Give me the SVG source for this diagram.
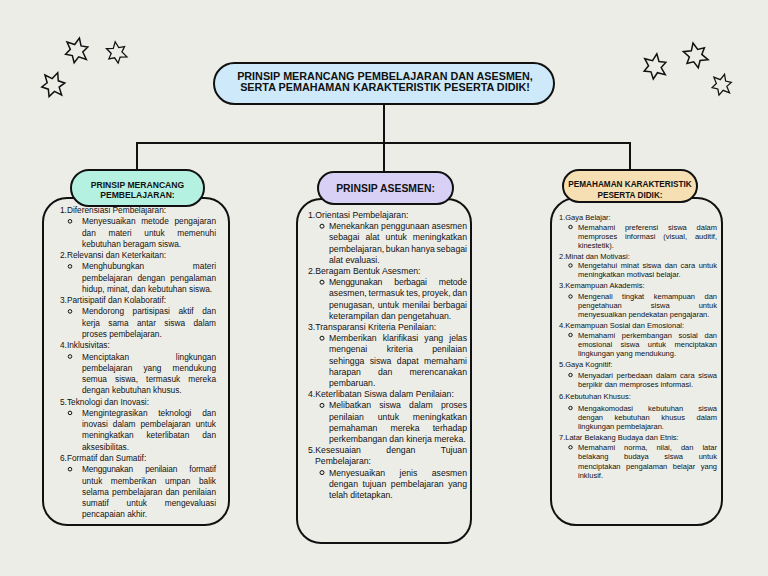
<svg xmlns="http://www.w3.org/2000/svg" xmlns:xlink="http://www.w3.org/1999/xlink" width="768" height="576" viewBox="0 0 768 576">
<style>
.box{stroke:#111;stroke-width:2}
.t{fill:#111;font-family:"Liberation Sans",Arial,sans-serif}
.hd{font-weight:bold;text-anchor:middle}
.l{font-size:8.3px}
.m{font-size:8.7px}
.r{font-size:7.5px}
.b{fill:none;stroke:#111;stroke-width:1}
.star{fill:none;stroke:#111;stroke-width:1.5;stroke-linejoin:miter}
.con{fill:none;stroke:#111;stroke-width:2}
</style>
<defs>
<path id="star" d="M0,-13 L3.25,-5.63 L10.13,-5.85 L6.24,0 L11.26,6.5 L3.25,5.63 L0,12.35 L-3.25,5.63 L-10.13,5.85 L-6.5,0 L-11.26,-6.5 L-3.25,-5.63 Z"/>
</defs>
<rect width="768" height="576" fill="#EDEDE8"/>
<g id="stars">
<use xlink:href="#star" class="star" transform="translate(76.7,50.7) rotate(12)"/>
<use xlink:href="#star" class="star" transform="translate(116.7,52.7) rotate(-8) scale(0.85)"/>
<use xlink:href="#star" class="star" transform="translate(53.3,85) rotate(20)"/>
<use xlink:href="#star" class="star" transform="translate(655,66.7) rotate(8)"/>
<use xlink:href="#star" class="star" transform="translate(695.7,55.7) rotate(-12)"/>
<use xlink:href="#star" class="star" transform="translate(721.7,85) rotate(15) scale(0.85)"/>
</g>
<g id="connectors">
<path class="con" d="M384,104 V173"/>
<path class="con" d="M137,171 V143 H630 V171"/>
</g>
<g id="title">
<rect class="box" x="214" y="63" width="340" height="41" rx="20.5" fill="#CDE9FA"/>
<text class="t hd" font-size="10.8" x="385" y="79.6">PRINSIP MERANCANG PEMBELAJARAN DAN ASESMEN,</text>
<text class="t hd" font-size="10.8" x="385" y="90.6">SERTA PEMAHAMAN KARAKTERISTIK PESERTA DIDIK!</text>
</g>
<g id="left-box">
<rect class="box" x="43" y="198" width="186" height="327" rx="24" fill="none"/>
<g class="t l">
<text x="60" y="213">1.Diferensiasi Pembelajaran:</text>
<text x="82" y="224.3" word-spacing="3.34" textLength="134" lengthAdjust="spacing">Menyesuaikan metode pengajaran</text>
<text x="82" y="235.5" word-spacing="10.38" textLength="134" lengthAdjust="spacing">dan materi untuk memenuhi</text>
<text x="82" y="246.8">kebutuhan beragam siswa.</text>
<text x="60" y="258.1">2.Relevansi dan Keterkaitan:</text>
<text x="82" y="269.4" word-spacing="46.34" textLength="134" lengthAdjust="spacing">Menghubungkan materi</text>
<text x="82" y="280.6" word-spacing="2.87" textLength="134" lengthAdjust="spacing">pembelajaran dengan pengalaman</text>
<text x="82" y="291.9">hidup, minat, dan kebutuhan siswa.</text>
<text x="60" y="303.2">3.Partisipatif dan Kolaboratif:</text>
<text x="82" y="314.4" word-spacing="6.22" textLength="134" lengthAdjust="spacing">Mendorong partisipasi aktif dan</text>
<text x="82" y="325.7" word-spacing="6.06" textLength="134" lengthAdjust="spacing">kerja sama antar siswa dalam</text>
<text x="82" y="337">proses pembelajaran.</text>
<text x="60" y="348.2">4.Inklusivitas:</text>
<text x="82" y="359.5" word-spacing="44.5" textLength="134" lengthAdjust="spacing">Menciptakan lingkungan</text>
<text x="82" y="370.8" word-spacing="8.87" textLength="134" lengthAdjust="spacing">pembelajaran yang mendukung</text>
<text x="82" y="382.1" word-spacing="5.77" textLength="134" lengthAdjust="spacing">semua siswa, termasuk mereka</text>
<text x="82" y="393.3">dengan kebutuhan khusus.</text>
<text x="60" y="404.6">5.Teknologi dan Inovasi:</text>
<text x="82" y="415.9" word-spacing="8.4" textLength="134" lengthAdjust="spacing">Mengintegrasikan teknologi dan</text>
<text x="82" y="427.1" word-spacing="2.69" textLength="134" lengthAdjust="spacing">inovasi dalam pembelajaran untuk</text>
<text x="82" y="438.4" word-spacing="10.49" textLength="134" lengthAdjust="spacing">meningkatkan keterlibatan dan</text>
<text x="82" y="449.7">aksesibilitas.</text>
<text x="60" y="460.9">6.Formatif dan Sumatif:</text>
<text x="82" y="472.2" word-spacing="10.02" textLength="134" lengthAdjust="spacing">Menggunakan penilaian formatif</text>
<text x="82" y="483.5" word-spacing="6.23" textLength="134" lengthAdjust="spacing">untuk memberikan umpan balik</text>
<text x="82" y="494.8" word-spacing="0.99" textLength="134" lengthAdjust="spacing">selama pembelajaran dan penilaian</text>
<text x="82" y="506" word-spacing="15.57" textLength="134" lengthAdjust="spacing">sumatif untuk mengevaluasi</text>
<text x="82" y="517.3">pencapaian akhir.</text>
</g>
<g>
<circle class="b" cx="70" cy="221.3" r="1.8"/>
<circle class="b" cx="70" cy="266.4" r="1.8"/>
<circle class="b" cx="70" cy="311.4" r="1.8"/>
<circle class="b" cx="70" cy="356.5" r="1.8"/>
<circle class="b" cx="70" cy="412.9" r="1.8"/>
<circle class="b" cx="70" cy="469.2" r="1.8"/>
</g>
</g>
<g id="left-header">
<rect class="box" x="71" y="170" width="133" height="36" rx="18" fill="#B5F1E1"/>
<text class="t hd" font-size="8.6" x="137.5" y="188.1">PRINSIP MERANCANG</text>
<text class="t hd" font-size="8.6" x="137.5" y="198.1">PEMBELAJARAN:</text>
</g>
<g id="middle-box">
<rect class="box" x="297" y="199" width="174" height="344" rx="24" fill="none"/>
<g class="t m">
<text x="308" y="218">1.Orientasi Pembelajaran:</text>
<text x="329" y="229.2" textLength="138" lengthAdjust="spacing">Menekankan penggunaan asesmen</text>
<text x="329" y="240.4" word-spacing="3.6" textLength="138" lengthAdjust="spacing">sebagai alat untuk meningkatkan</text>
<text x="329" y="251.6" word-spacing="-0.75" textLength="138" lengthAdjust="spacing">pembelajaran, bukan hanya sebagai</text>
<text x="329" y="262.8">alat evaluasi.</text>
<text x="308" y="274">2.Beragam Bentuk Asesmen:</text>
<text x="329" y="285.2" word-spacing="9.76" textLength="138" lengthAdjust="spacing">Menggunakan berbagai metode</text>
<text x="329" y="296.4" word-spacing="-0.56" textLength="138" lengthAdjust="spacing">asesmen, termasuk tes, proyek, dan</text>
<text x="329" y="307.6" word-spacing="0.86" textLength="138" lengthAdjust="spacing">penugasan, untuk menilai berbagai</text>
<text x="329" y="318.8">keterampilan dan pengetahuan.</text>
<text x="308" y="330">3.Transparansi Kriteria Penilaian:</text>
<text x="329" y="341.2" word-spacing="3.75" textLength="138" lengthAdjust="spacing">Memberikan klarifikasi yang jelas</text>
<text x="329" y="352.4" word-spacing="17.02" textLength="138" lengthAdjust="spacing">mengenai kriteria penilaian</text>
<text x="329" y="363.6" word-spacing="2.97" textLength="138" lengthAdjust="spacing">sehingga siswa dapat memahami</text>
<text x="329" y="374.8" word-spacing="14.6" textLength="138" lengthAdjust="spacing">harapan dan merencanakan</text>
<text x="329" y="386">pembaruan.</text>
<text x="308" y="397.2">4.Keterlibatan Siswa dalam Penilaian:</text>
<text x="329" y="408.4" word-spacing="5.71" textLength="138" lengthAdjust="spacing">Melibatkan siswa dalam proses</text>
<text x="329" y="419.6" word-spacing="11.45" textLength="138" lengthAdjust="spacing">penilaian untuk meningkatkan</text>
<text x="329" y="430.8" word-spacing="10.73" textLength="138" lengthAdjust="spacing">pemahaman mereka terhadap</text>
<text x="329" y="442">perkembangan dan kinerja mereka.</text>
<text x="308" y="453.2" word-spacing="22.9" textLength="159" lengthAdjust="spacing">5.Kesesuaian dengan Tujuan</text>
<text x="315" y="464.4">Pembelajaran:</text>
<text x="329" y="475.6" word-spacing="11.95" textLength="138" lengthAdjust="spacing">Menyesuaikan jenis asesmen</text>
<text x="329" y="486.8" word-spacing="2.15" textLength="138" lengthAdjust="spacing">dengan tujuan pembelajaran yang</text>
<text x="329" y="498">telah ditetapkan.</text>
</g>
<g>
<circle class="b" cx="322" cy="226.2" r="2"/>
<circle class="b" cx="322" cy="282.2" r="2"/>
<circle class="b" cx="322" cy="338.2" r="2"/>
<circle class="b" cx="322" cy="405.4" r="2"/>
<circle class="b" cx="322" cy="472.6" r="2"/>
</g>
</g>
<g id="middle-header">
<rect class="box" x="318" y="172" width="135" height="32" rx="16" fill="#D9D0F5"/>
<text class="t hd" font-size="10.4" x="385.5" y="191.5">PRINSIP ASESMEN:</text>
</g>
<g id="right-box">
<rect class="box" x="551" y="198" width="171" height="327" rx="25" fill="none"/>
<g class="t r">
<text x="559" y="219.7">1.Gaya Belajar:</text>
<text x="578" y="229.7" word-spacing="7.71" textLength="139" lengthAdjust="spacing">Memahami preferensi siswa dalam</text>
<text x="578" y="238.7" word-spacing="5.77" textLength="139" lengthAdjust="spacing">memproses informasi (visual, auditif,</text>
<text x="578" y="247.7">kinestetik).</text>
<text x="559" y="258.7">2.Minat dan Motivasi:</text>
<text x="578" y="268.2" word-spacing="1.37" textLength="139" lengthAdjust="spacing">Mengetahui minat siswa dan cara untuk</text>
<text x="578" y="277.2">meningkatkan motivasi belajar.</text>
<text x="559" y="288.2">3.Kemampuan Akademis:</text>
<text x="578" y="299.2" word-spacing="7.43" textLength="139" lengthAdjust="spacing">Mengenali tingkat kemampuan dan</text>
<text x="578" y="308.2" word-spacing="26.97" textLength="139" lengthAdjust="spacing">pengetahuan siswa untuk</text>
<text x="578" y="317.2">menyesuaikan pendekatan pengajaran.</text>
<text x="559" y="328.2">4.Kemampuan Sosial dan Emosional:</text>
<text x="578" y="337.7" word-spacing="4.65" textLength="139" lengthAdjust="spacing">Memahami perkembangan sosial dan</text>
<text x="578" y="347" word-spacing="6.32" textLength="139" lengthAdjust="spacing">emosional siswa untuk menciptakan</text>
<text x="578" y="356">lingkungan yang mendukung.</text>
<text x="559" y="367">5.Gaya Kognitif:</text>
<text x="578" y="377.7" word-spacing="1.51" textLength="139" lengthAdjust="spacing">Menyadari perbedaan dalam cara siswa</text>
<text x="578" y="387">berpikir dan memproses informasi.</text>
<text x="559" y="398.7">6.Kebutuhan Khusus:</text>
<text x="578" y="410.7" word-spacing="13.02" textLength="139" lengthAdjust="spacing">Mengakomodasi kebutuhan siswa</text>
<text x="578" y="420" word-spacing="9.51" textLength="139" lengthAdjust="spacing">dengan kebutuhan khusus dalam</text>
<text x="578" y="429.4">lingkungan pembelajaran.</text>
<text x="559" y="440">7.Latar Belakang Budaya dan Etnis:</text>
<text x="578" y="450" word-spacing="6.93" textLength="139" lengthAdjust="spacing">Memahami norma, nilai, dan latar</text>
<text x="578" y="459.4" word-spacing="13.54" textLength="139" lengthAdjust="spacing">belakang budaya siswa untuk</text>
<text x="578" y="468.7" word-spacing="3.4" textLength="139" lengthAdjust="spacing">menciptakan pengalaman belajar yang</text>
<text x="578" y="477.7">inklusif.</text>
</g>
<g>
<circle class="b" cx="570.5" cy="227" r="1.7"/>
<circle class="b" cx="570.5" cy="265.5" r="1.7"/>
<circle class="b" cx="570.5" cy="296.5" r="1.7"/>
<circle class="b" cx="570.5" cy="335" r="1.7"/>
<circle class="b" cx="570.5" cy="375" r="1.7"/>
<circle class="b" cx="570.5" cy="408" r="1.7"/>
<circle class="b" cx="570.5" cy="447.3" r="1.7"/>
</g>
</g>
<g id="right-header">
<rect class="box" x="563" y="170" width="134" height="32" rx="16" fill="#F6DFB3"/>
<text class="t hd" font-size="8.2" x="630" y="187.2">PEMAHAMAN KARAKTERISTIK</text>
<text class="t hd" font-size="8.2" x="630" y="197.9">PESERTA DIDIK:</text>
</g>
</svg>
